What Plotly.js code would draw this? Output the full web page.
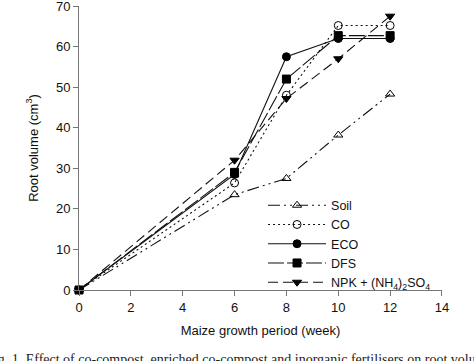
<!DOCTYPE html>
<html>
<head>
<meta charset="utf-8">
<script src="https://cdn.plot.ly/plotly-3.0.1.min.js"></script>
<style>html,body{margin:0;padding:0;background:#fff;}#chart{width:474px;height:361px;}</style>
</head>
<body>
<div id="chart"></div>
<script>
const weeks = [0, 6, 8, 10, 12];
const soil = [0, 23.5, 27.5, 38.2, 48.3];
const co   = [0, 26.4, 48.0, 65.2, 65.2];
const eco  = [0, 28.5, 57.5, 62.0, 62.0];
const dfs  = [0, 29.0, 52.0, 62.7, 62.7];
const npk  = [0, 32.0, 47.2, 57.0, 67.5];
const names = ['Soil', 'CO', 'ECO', 'DFS', 'NPK + (NH<sub>4</sub>)<sub>2</sub>SO<sub>4</sub>'];
const xTicks = [0, 2, 4, 6, 8, 10, 12, 14];
const yTicks = [0, 10, 20, 30, 40, 50, 60, 70];

const series = [soil, co, eco, dfs, npk];
const symbols = ['triangle-up-open', 'circle-open', 'circle', 'square', 'triangle-down'];
const dashes = ['12px,4px,2px,4px,2px,4px', '2px,3px', 'solid', '16px,3px', '10px,5px'];

const traces = series.map((s, i) => ({
  x: weeks, y: s, name: names[i], type: 'scatter', mode: 'lines+markers',
  line: {color: '#111', width: 1.1, dash: dashes[i]},
  marker: {symbol: symbols[i], size: 8, color: '#000', line: {color: '#000', width: 1}},
  cliponaxis: false
}));

const layout = {
  width: 474, height: 361,
  margin: {l: 79, r: 32, t: 6, b: 71},
  paper_bgcolor: '#fff', plot_bgcolor: '#fff',
  font: {family: 'Liberation Sans, Arial, sans-serif', size: 13, color: '#111'},
  showlegend: true,
  legend: {x: 0.507, y: 0.35, xanchor: 'left', yanchor: 'top', bgcolor: 'rgba(0,0,0,0)',
           font: {size: 12.5, color: '#111'}, tracegroupgap: 0, itemwidth: 58},
  xaxis: {range: [0, 14.001], tickvals: xTicks, ticktext: xTicks.map(String), showgrid: false, zeroline: false,
          showline: true, linecolor: '#777', linewidth: 1, ticks: 'outside', ticklen: 5, tickcolor: '#777',
          tickfont: {size: 13}, ticklabeloverflow: 'allow',
          title: {text: 'Maize growth period (week)', font: {size: 13}, standoff: 12}},
  yaxis: {range: [0, 70.01], tickvals: yTicks, ticktext: yTicks.map(String), showgrid: false, zeroline: false,
          showline: true, linecolor: '#777', linewidth: 1, ticks: 'outside', ticklen: 5, tickcolor: '#777',
          tickfont: {size: 13}, ticklabeloverflow: 'allow',
          title: {text: 'Root volume (cm<sup>3</sup>)', font: {size: 13}, standoff: 14}},
  annotations: [{
    xref: 'paper', yref: 'paper', x: -0.262, y: -0.212, xanchor: 'left', yanchor: 'top',
    text: 'Fig. 1. Effect of co-compost, enriched co-compost and inorganic fertilisers on root volume',
    showarrow: false, font: {family: 'Liberation Serif, Times New Roman, serif', size: 14, color: '#222'}
  }]
};

Plotly.newPlot('chart', traces, layout, {staticPlot: true, displayModeBar: false});
</script>
</body>
</html>
